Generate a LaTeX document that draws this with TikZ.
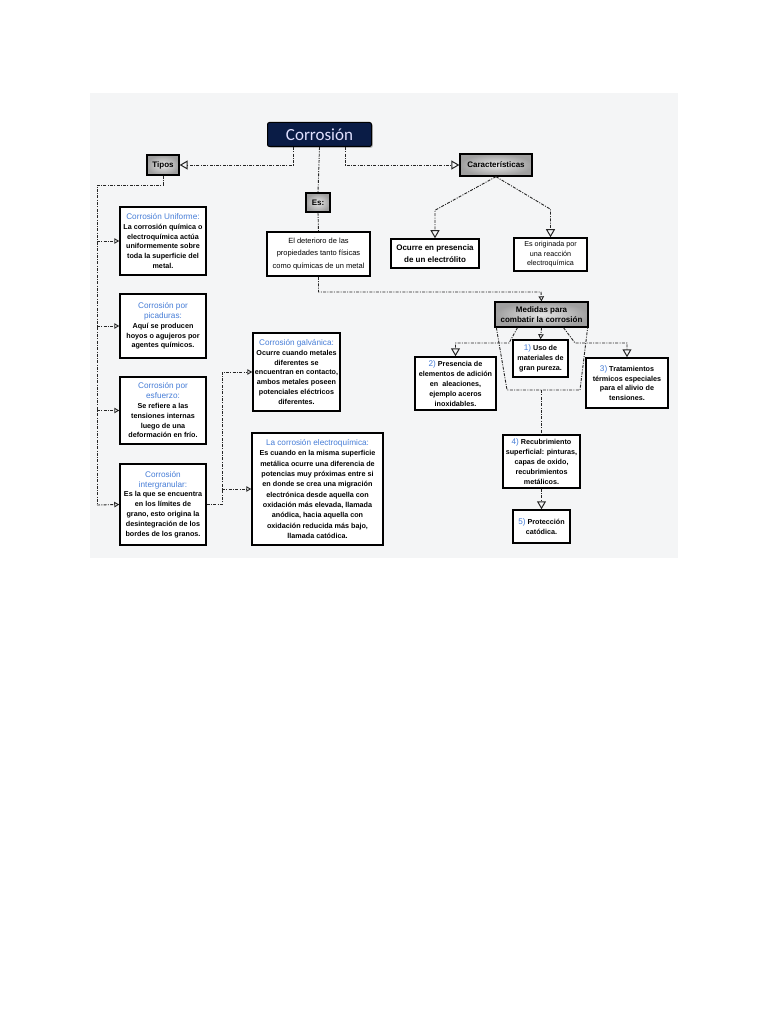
\documentclass[tikz,border=0pt]{standalone}
\usepackage{fontspec}
\setmainfont{Liberation Sans}
\newfontfamily\titlefont{Carlito}
\usetikzlibrary{arrows.meta,shadows}
\definecolor{hdblue}{RGB}{70,125,215}
\definecolor{navy}{RGB}{10,28,70}
\definecolor{panel}{RGB}{244,245,246}
\newcommand{\hd}[1]{{\mdseries\fontsize{8.2}{9.8}\selectfont\color{hdblue}#1}}

\begin{document}
\begin{tikzpicture}[x=1pt,y=-1pt,
 box/.style={draw,line width=1.5pt,fill=white,align=center,inner sep=1.5pt,font=\fontsize{7.2}{9.8}\selectfont\bfseries,drop shadow={shadow xshift=1.3pt,shadow yshift=-1.3pt,fill=blue!40!gray,opacity=.35}},
 gbox/.style={draw,line width=1.3pt,inner color=gray!20,outer color=gray!75,align=center,inner sep=2pt,font=\fontsize{8}{10.5}\selectfont\bfseries,drop shadow={shadow xshift=1.3pt,shadow yshift=-1.3pt,fill=gray,opacity=.4}},
 link/.style={line width=.9pt,black!85,dash pattern=on 3pt off 1.3pt on 1pt off 1.3pt},
 bigtip/.style={-{Triangle[open,length=8pt,width=9pt,line width=1pt]}},
 smalltip/.style={-{Triangle[open,length=5pt,width=5.5pt,line width=.9pt]}}]
\useasboundingbox (0,0) rectangle (768,1024);
\fill[white] (0,0) rectangle (768,1024);
\fill[panel] (90,93) rectangle (678,558);
\node[fill=navy,draw=black,line width=1pt,rounded corners=2pt,minimum width=104pt,minimum height=24pt,font=\titlefont\fontsize{17}{17}\selectfont,text=blue!12,drop shadow={shadow xshift=1.3pt,shadow yshift=-1.3pt,fill=gray,opacity=.5}] (title) at (319.5,134.5) {Corrosión};
\node[gbox,minimum width=32pt,minimum height=20pt] (tipos) at (163,165) {Tipos};
\node[gbox,minimum width=24pt,minimum height=19pt] (es) at (318,202.5) {Es:};
\node[gbox,minimum width=72pt,minimum height=22pt] (car) at (496,165) {Características};
\node[box,minimum width=86pt,minimum height=68pt] (uni) at (163,241) {\hd{Corrosión Uniforme:}\\La corrosión química o\\electroquímica actúa\\uniformemente sobre\\toda la superficie del\\metal.};
\node[box,minimum width=86pt,minimum height=64pt] (pic) at (163,326) {\hd{Corrosión por}\\\hd{picaduras:}\\Aquí se producen\\hoyos o agujeros por\\agentes químicos.};
\node[box,minimum width=86pt,minimum height=67pt] (esf) at (163,410.5) {\hd{Corrosión por}\\\hd{esfuerzo:}\\Se refiere a las\\tensiones internas\\luego de una\\deformación en frío.};
\node[box,minimum width=86pt,minimum height=81pt] (inter) at (163,504.5) {\hd{Corrosión}\\\hd{intergranular:}\\Es la que se encuentra\\en los límites de\\grano, esto origina la\\desintegración de los\\bordes de los granos.};
\node[box,minimum width=87pt,minimum height=78pt] (galv) at (296.5,372) {\hd{Corrosión galvánica:}\\Ocurre cuando metales\\diferentes se\\encuentran en contacto,\\ambos metales poseen\\potenciales eléctricos\\diferentes.};
\node[box,minimum width=131pt,minimum height=112pt,font=\fontsize{7.2}{10.3}\selectfont\bfseries] (electro) at (317.5,489) {\hd{La corrosión electroquímica:}\\Es cuando en la misma superficie\\metálica ocurre una diferencia de\\potencias muy próximas entre si\\en donde se crea una migración\\electrónica desde aquella con\\oxidación más elevada, llamada\\anódica, hacia aquella con\\oxidación reducida más bajo,\\llamada catódica.};
\node[box,minimum width=103pt,minimum height=44pt,font=\fontsize{7.5}{12.5}\selectfont] (det) at (318.5,254) {El deterioro de las\\propiedades tanto físicas\\como químicas de un metal};
\node[box,minimum width=88pt,minimum height=29pt,font=\fontsize{8}{12.5}\selectfont\bfseries] (ocu) at (435,253.5) {Ocurre en presencia\\de un electrólito};
\node[box,minimum width=73pt,minimum height=33pt,font=\fontsize{7.2}{9.5}\selectfont] (ori) at (550.5,254.5) {Es originada por\\una reacción\\electroquímica};
\node[gbox,minimum width=93pt,minimum height=25pt] (med) at (541.5,314.5) {Medidas para\\combatir la corrosión};
\node[box,minimum width=55pt,minimum height=37pt] (p1) at (540.5,358.5) {\hd{1)} Uso de\\materiales de\\gran pureza.};
\node[box,minimum width=81pt,minimum height=53pt] (p2) at (455.5,383.5) {\hd{2)} Presencia de\\elementos de adición\\en \ aleaciones,\\ejemplo aceros\\inoxidables.};
\node[box,minimum width=82pt,minimum height=50pt] (p3) at (627,383) {\hd{3)} Tratamientos\\térmicos especiales\\para el alivio de\\tensiones.};
\node[box,minimum width=77pt,minimum height=53pt] (p4) at (541.5,461.5) {\hd{4)} Recubrimiento\\superficial: pinturas,\\capas de oxido,\\recubrimientos\\metálicos.};
\node[box,minimum width=57pt,minimum height=33pt] (p5) at (541.5,526.5) {\hd{5)} Protección\\catódica.};
\coordinate (tl) at (97,185);
\coordinate (bl) at (97,505);
\coordinate (jn) at (222,0);
\coordinate (medR) at (541,292);
\coordinate (m2) at (509,343);
\coordinate (m3) at (575,343);
\coordinate (tzl) at (507,390);
\coordinate (tzr) at (580,390);
\draw[link,bigtip] ([xshift=-26pt]title.south) |- (tipos.east);
\draw[link,bigtip] ([xshift=25.5pt]title.south) |- (car.west);
\draw[link] (title.south) -- (es.north);\draw[link] (es.south) -- (det.north);
\draw[link] (tipos.south) |- (tl) -- (bl);
\draw[link,smalltip] (tl |- uni.west) -- (uni.west);\draw[link,smalltip] (tl |- pic.west) -- (pic.west);
\draw[link,smalltip] (tl |- esf.west) -- (esf.west);\draw[link,smalltip] (bl) -- (inter.west);
\draw[link,smalltip] (inter.east) -- (jn |- inter.east) |- (galv.west);
\draw[link,smalltip] (jn |- electro.west) -- (electro.west);
\draw[link,bigtip] (car.south) -- ([yshift=28pt]ocu.north) -- (ocu.north);
\draw[link,bigtip] (car.south) -- ([yshift=28pt]ori.north) -- (ori.north);
\draw[link,smalltip] (det.south) |- (medR) -- (med.north);
\draw[link,smalltip] (med.south) -- (p1.north);
\draw[link,bigtip] ([xshift=-24pt]med.south) -- (m2) -| (p2.north);
\draw[link,bigtip] ([xshift=22pt]med.south) -- (m3) -| (p3.north);
\draw[link] ([xshift=2pt]med.south west) -- (tzl) -- (tzr) -- ([xshift=-1pt]med.south east);
\draw[link] (tzl -| p4.north) -- (p4.north);
\draw[link,bigtip] (p4.south) -- (p5.north);
\end{tikzpicture}
\end{document}
